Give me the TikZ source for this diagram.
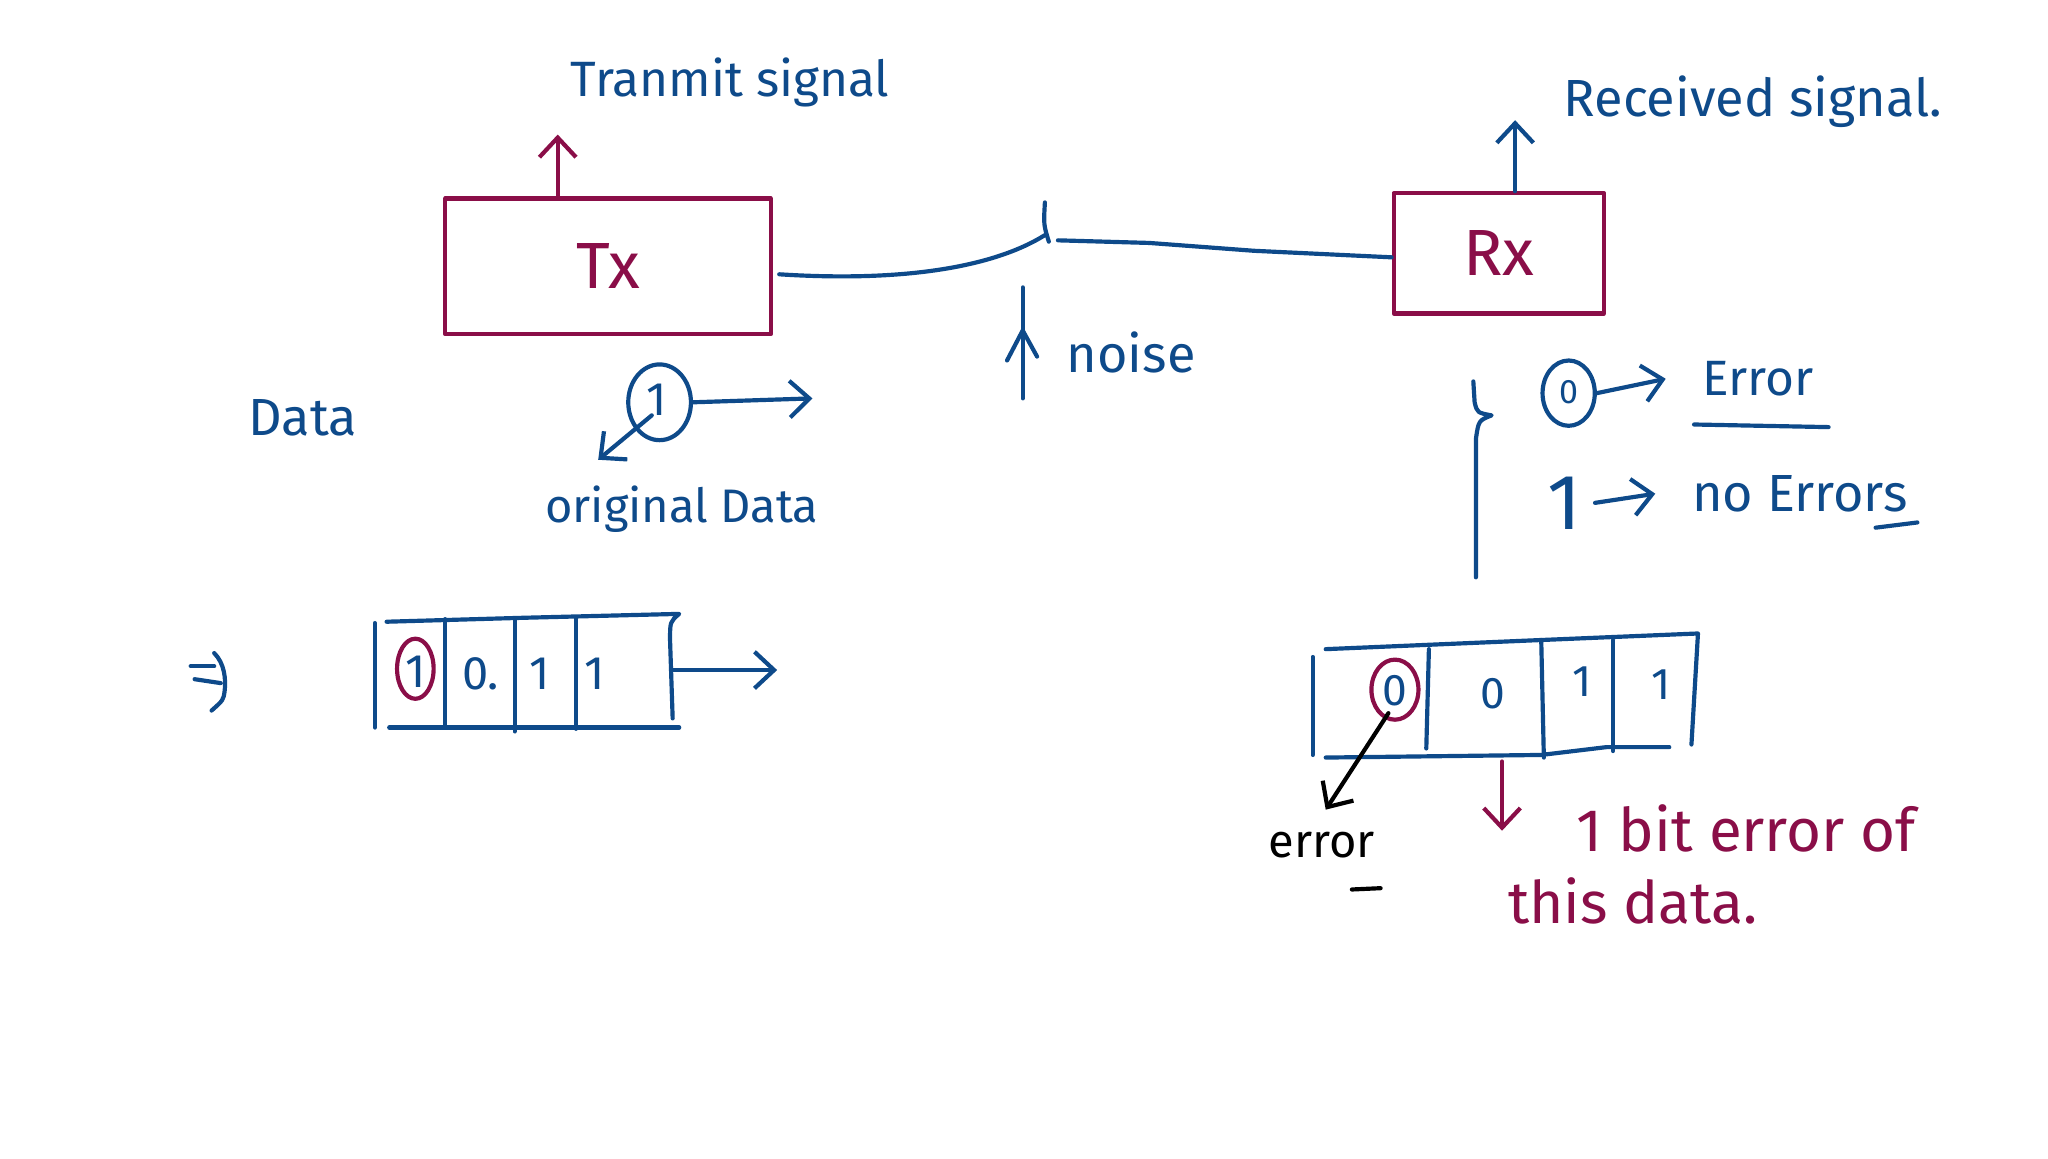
\documentclass[tikz,border=0pt]{standalone}
\usepackage{fontspec}
\setmainfont{Fira Sans}
\usetikzlibrary{arrows.meta,shapes.geometric}
\definecolor{pen}{HTML}{0E4A8A}
\definecolor{ink}{HTML}{8A0E48}
\begin{document}
\begin{tikzpicture}[x=1pt,y=-1pt,
  stroke/.style={line width=3.2pt, line cap=round, line join=round},
  bl/.style={stroke, draw=pen},
  mr/.style={stroke, draw=ink},
  bk/.style={stroke, draw=black},
  tip/.style={-{Straight Barb[length=15pt,width=28pt]}},
  lbl/.style={inner sep=0pt, text=pen, font=\fontsize{#1}{#1}\selectfont},
  lbl/.default=38,
  mlbl/.style={inner sep=0pt, text=ink, font=\fontsize{#1}{#1}\selectfont},
  mlbl/.default=44,
  box/.style={rectangle, stroke, draw=ink, text=ink, font=\fontsize{50}{50}\selectfont},
  ring/.style={ellipse, stroke, inner sep=0pt},
  digit/.style={inner sep=0pt, text=pen, font=\fontsize{#1}{#1}\selectfont},
  digit/.default=38]
\useasboundingbox[fill=white] (0,0) rectangle (1568,887);

% labels
\node[lbl=38] (tsig) at (559,63) {Tranmit signal};
\node[lbl=40] (rsig) at (1342,78) {Received signal.};
\node[lbl=40] (data) at (232,320) {Data};
\node[lbl=36] (orig) at (522,390) {original Data};
\node[lbl=40] (noise) at (866,270) {noise};

% Tx and Rx boxes
\node[box, minimum width=249pt, minimum height=104pt] (tx) at (465.5,204) {Tx};
\node[box, minimum width=161pt, minimum height=92pt] (rx) at (1147.5,194) {Rx};

% output arrows
\coordinate (txup) at (427,103);
\coordinate (rxup) at (1160,92);
\draw[mr,tip] (tx.north -| txup) -- (txup);
\draw[bl,tip] (rx.north -| rxup) -- (rxup);

% channel wire with switch
\coordinate (sw) at (800,180);
\coordinate (sw2) at (810,184);
\draw[bl] ([xshift=5pt,yshift=-6pt]tx.east) .. controls (690,216) and (760,205) .. (sw);
\draw[bl] (800,155) .. controls (799,172) .. (803,185);
\draw[bl] (sw2) -- (880,186) -- (960,192) -- ([yshift=-3pt]rx.west);

% noise arrow
\coordinate (nz1) at (783,305);
\coordinate (nz2) at (783,220);
\draw[bl] (nz1) -- (nz2);
\draw[bl] (771,276) -- (783,253) -- (794,273);

% circled 1 (transmitted bit)
\node[ring, draw=pen, minimum width=48pt, minimum height=58pt] (c1) at (505,308) {};
\node[digit=36] (c1d) at (503,306) {1};
\coordinate (c1r) at (622,305);
\coordinate (c1l) at (458,352);
\draw[bl,tip] (c1.east) -- (c1r);
\draw[bl,tip] ([shift={(-6,10)}]c1.center) -- (c1l);

% implies mark
\draw[bl] (146,510) -- (164,510);
\draw[bl] (149,520) -- (169,523);
\draw[bl] (164,500) .. controls (172,508) and (173,520) .. (172,529) .. controls (171,536) .. (162,544);

% left data frame
\draw[bl] (287,477) -- (287,557);
\draw[bl] (296,476) -- (400,473) -- (520,470) .. controls (513,476) .. (513,490) -- (515,550);
\draw[bl] (298,557) -- (520,557);
\draw[bl] (341,474) -- (341,557);
\draw[bl] (394,474) -- (394,560);
\draw[bl] (441,473) -- (441,558);
\node[ring, draw=ink, minimum width=28pt, minimum height=46pt] (lc) at (318,512) {};
\node[digit=36] (l1) at (318,514) {1};
\node[digit=36] (l2) at (368,516) {0.};
\node[digit=36] (l3) at (413,516) {1};
\node[digit=36] (l4) at (455,516) {1};
\coordinate (lout) at (595,513);
\draw[bl,tip] (515,513) -- (lout);

% right data frame
\draw[bl] (1005,503) -- (1005,578);
\draw[bl] (1015,497) -- (1180,490) -- (1300,485) -- (1295,570);
\draw[bl] (1015,580) -- (1180,578) -- (1230,572) -- (1278,572);
\draw[bl] (1094,497) -- (1092,573);
\draw[bl] (1180,490) -- (1182,580);
\draw[bl] (1235,490) -- (1235,575);
\node[ring, draw=ink, minimum width=36pt, minimum height=46pt] (rc) at (1068,528) {};
\node[digit=34] (r1) at (1068,529) {0};
\node[digit=34] (r2) at (1143,531) {0};
\node[digit=34] (r3) at (1211,522) {1};
\node[digit=34] (r4) at (1272,524) {1};

% error pointer
\node[inner sep=0pt, text=black, font=\fontsize{36}{36}\selectfont] (err) at (1012,647) {error};
\draw[bk,tip] ([shift={(-5,17)}]r1.center) -- ([shift={(3,-17)}]err.north);
\draw[bk] (1035,681) -- (1057,680);

% 1 bit error note
\coordinate (bdn) at (1150,636);
\draw[mr,tip] (1150,583) -- (bdn);
\node[mlbl=46] (note1) at (1337,634) {1 bit error of};
\node[mlbl=45] (note2) at (1250,690) {this data.};

% legend
\draw[bl] (1128,292) -- (1129,308) .. controls (1131,316) .. (1142,318) .. controls (1132,322) .. (1130,336) -- (1130,442);
\node[ring, draw=pen, minimum width=40pt, minimum height=50pt] (c0) at (1201,301) {};
\node[digit=26] (c0d) at (1201,300) {0};
\node[lbl=38] (e1) at (1346,290) {Error};
\draw[bl,tip] (c0.east) -- ([xshift=-28pt]e1.west);
\draw[bl] (1297,325) -- (1400,327);
\node[digit=60] (one) at (1198,385) {1};
\node[lbl=40] (e2) at (1378,378) {no Errors};
\draw[bl,tip] ([xshift=10pt]one.east) -- ([xshift=-28pt]e2.west);
\draw[bl] (1436,404) -- (1468,400);
\end{tikzpicture}
\end{document}
